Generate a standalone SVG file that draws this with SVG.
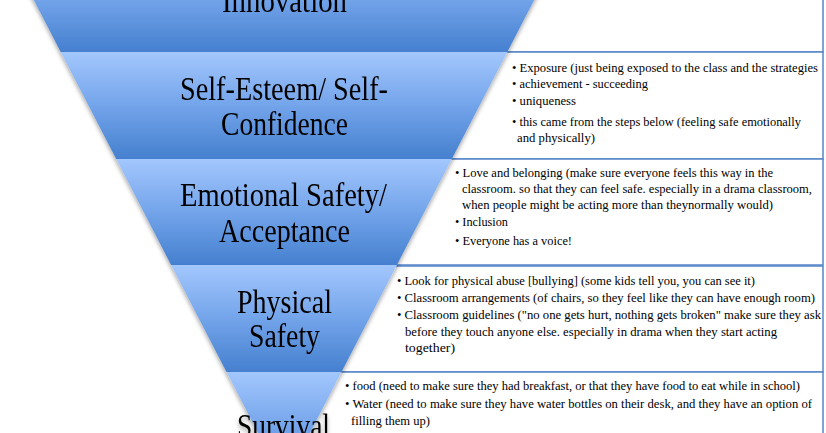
<svg xmlns="http://www.w3.org/2000/svg" width="826" height="433" viewBox="0 0 826 433">
<defs>
<linearGradient id="band" x1="0" y1="0" x2="0" y2="1">
<stop offset="0" stop-color="#a3c7fd"/>
<stop offset="0.5" stop-color="#73a4ea"/>
<stop offset="1" stop-color="#4580cf"/>
</linearGradient>
<filter id="sh" x="-10%" y="-10%" width="120%" height="130%">
<feDropShadow dx="0" dy="3" stdDeviation="2" flood-color="#000" flood-opacity="0.35"/>
</filter>
<style>
.box{fill:#fff;stroke:#5585c8;stroke-width:1.5}
.band{fill:url(#band)}
.t{font-family:"Liberation Serif","DejaVu Serif",serif;font-size:34px;fill:#000}
.b{font-family:"Liberation Serif","DejaVu Serif",serif;font-size:13px;fill:#000}
</style>
</defs>
<rect width="826" height="433" fill="#fff"/>
<g id="boxes">
<g id="box0"><rect class="box" x="480" y="-10" width="343" height="62"/></g>
<g id="box1"><rect class="box" x="430" y="52" width="393" height="107"/>
<text class="b" x="512" y="71.5" textLength="306" lengthAdjust="spacingAndGlyphs">• Exposure (just being exposed to the class and the strategies</text>
<text class="b" x="512" y="88" textLength="136" lengthAdjust="spacingAndGlyphs">• achievement - succeeding</text>
<text class="b" x="512" y="105" textLength="64" lengthAdjust="spacingAndGlyphs">• uniqueness</text>
<text class="b" x="512" y="126" textLength="289" lengthAdjust="spacingAndGlyphs">• this came from the steps below (feeling safe emotionally</text>
<text class="b" x="517" y="142" textLength="78" lengthAdjust="spacingAndGlyphs">and physically)</text>
</g>
<g id="box2"><rect class="box" x="370" y="159" width="453" height="106"/>
<text class="b" x="455" y="177" textLength="318" lengthAdjust="spacingAndGlyphs">• Love and belonging (make sure everyone feels this way in the</text>
<text class="b" x="462" y="193" textLength="350" lengthAdjust="spacingAndGlyphs">classroom. so that they can feel safe. especially in a drama classroom,</text>
<text class="b" x="462" y="209" textLength="311" lengthAdjust="spacingAndGlyphs">when people might be acting more than theynormally would)</text>
<text class="b" x="455" y="226" textLength="53" lengthAdjust="spacingAndGlyphs">• Inclusion</text>
<text class="b" x="455" y="245" textLength="117" lengthAdjust="spacingAndGlyphs">• Everyone has a voice!</text>
</g>
<g id="box3"><rect class="box" x="320" y="266" width="503" height="106"/>
<text class="b" x="397" y="285" textLength="358" lengthAdjust="spacingAndGlyphs">• Look for physical abuse [bullying] (some kids tell you, you can see it)</text>
<text class="b" x="397" y="301.5" textLength="418" lengthAdjust="spacingAndGlyphs">• Classroom arrangements (of chairs, so they feel like they can have enough room)</text>
<text class="b" x="397" y="319" textLength="424" lengthAdjust="spacingAndGlyphs">• Classroom guidelines ("no one gets hurt, nothing gets broken" make sure they ask</text>
<text class="b" x="405" y="336" textLength="372" lengthAdjust="spacingAndGlyphs">before they touch anyone else. especially in drama when they start acting</text>
<text class="b" x="405" y="352" textLength="50" lengthAdjust="spacingAndGlyphs">together)</text>
</g>
<g id="box4"><rect class="box" x="290" y="372" width="533" height="80"/>
<text class="b" x="345" y="389.5" textLength="455" lengthAdjust="spacingAndGlyphs">• food (need to make sure they had breakfast, or that they have food to eat while in school)</text>
<text class="b" x="345" y="408" textLength="467" lengthAdjust="spacingAndGlyphs">• Water (need to make sure they have water bottles on their desk, and they have an option of</text>
<text class="b" x="351" y="425" textLength="79" lengthAdjust="spacingAndGlyphs">filling them up)</text>
</g>
</g>
<g id="pyramid" filter="url(#sh)">
<g id="level-innovation">
<polygon class="band" points="5.3,-55 562.7,-55 507.3,52 60.7,52"/>
<text class="t" x="222" y="11.5" textLength="125" lengthAdjust="spacingAndGlyphs">Innovation</text>
</g>
<g id="level-self-esteem">
<polygon class="band" points="60.7,52 507.3,52 451.8,159 116.2,159"/>
<text class="t" x="180" y="100" textLength="208" lengthAdjust="spacingAndGlyphs">Self-Esteem/ Self-</text>
<text class="t" x="221" y="135" textLength="127" lengthAdjust="spacingAndGlyphs">Confidence</text>
</g>
<g id="level-emotional">
<polygon class="band" points="116.2,159 451.8,159 396.9,265 171.1,265"/>
<text class="t" x="180" y="206" textLength="207" lengthAdjust="spacingAndGlyphs">Emotional Safety/</text>
<text class="t" x="219" y="242" textLength="131" lengthAdjust="spacingAndGlyphs">Acceptance</text>
</g>
<g id="level-physical">
<polygon class="band" points="171.1,265 396.9,265 341.5,372 226.5,372"/>
<text class="t" x="237" y="313" textLength="95" lengthAdjust="spacingAndGlyphs">Physical</text>
<text class="t" x="249" y="347" textLength="71" lengthAdjust="spacingAndGlyphs">Safety</text>
</g>
<g id="level-survival">
<polygon class="band" points="226.5,372 341.5,372 284,483"/>
<text class="t" x="237" y="437" textLength="93" lengthAdjust="spacingAndGlyphs">Survival</text>
</g>
</g>
</svg>
